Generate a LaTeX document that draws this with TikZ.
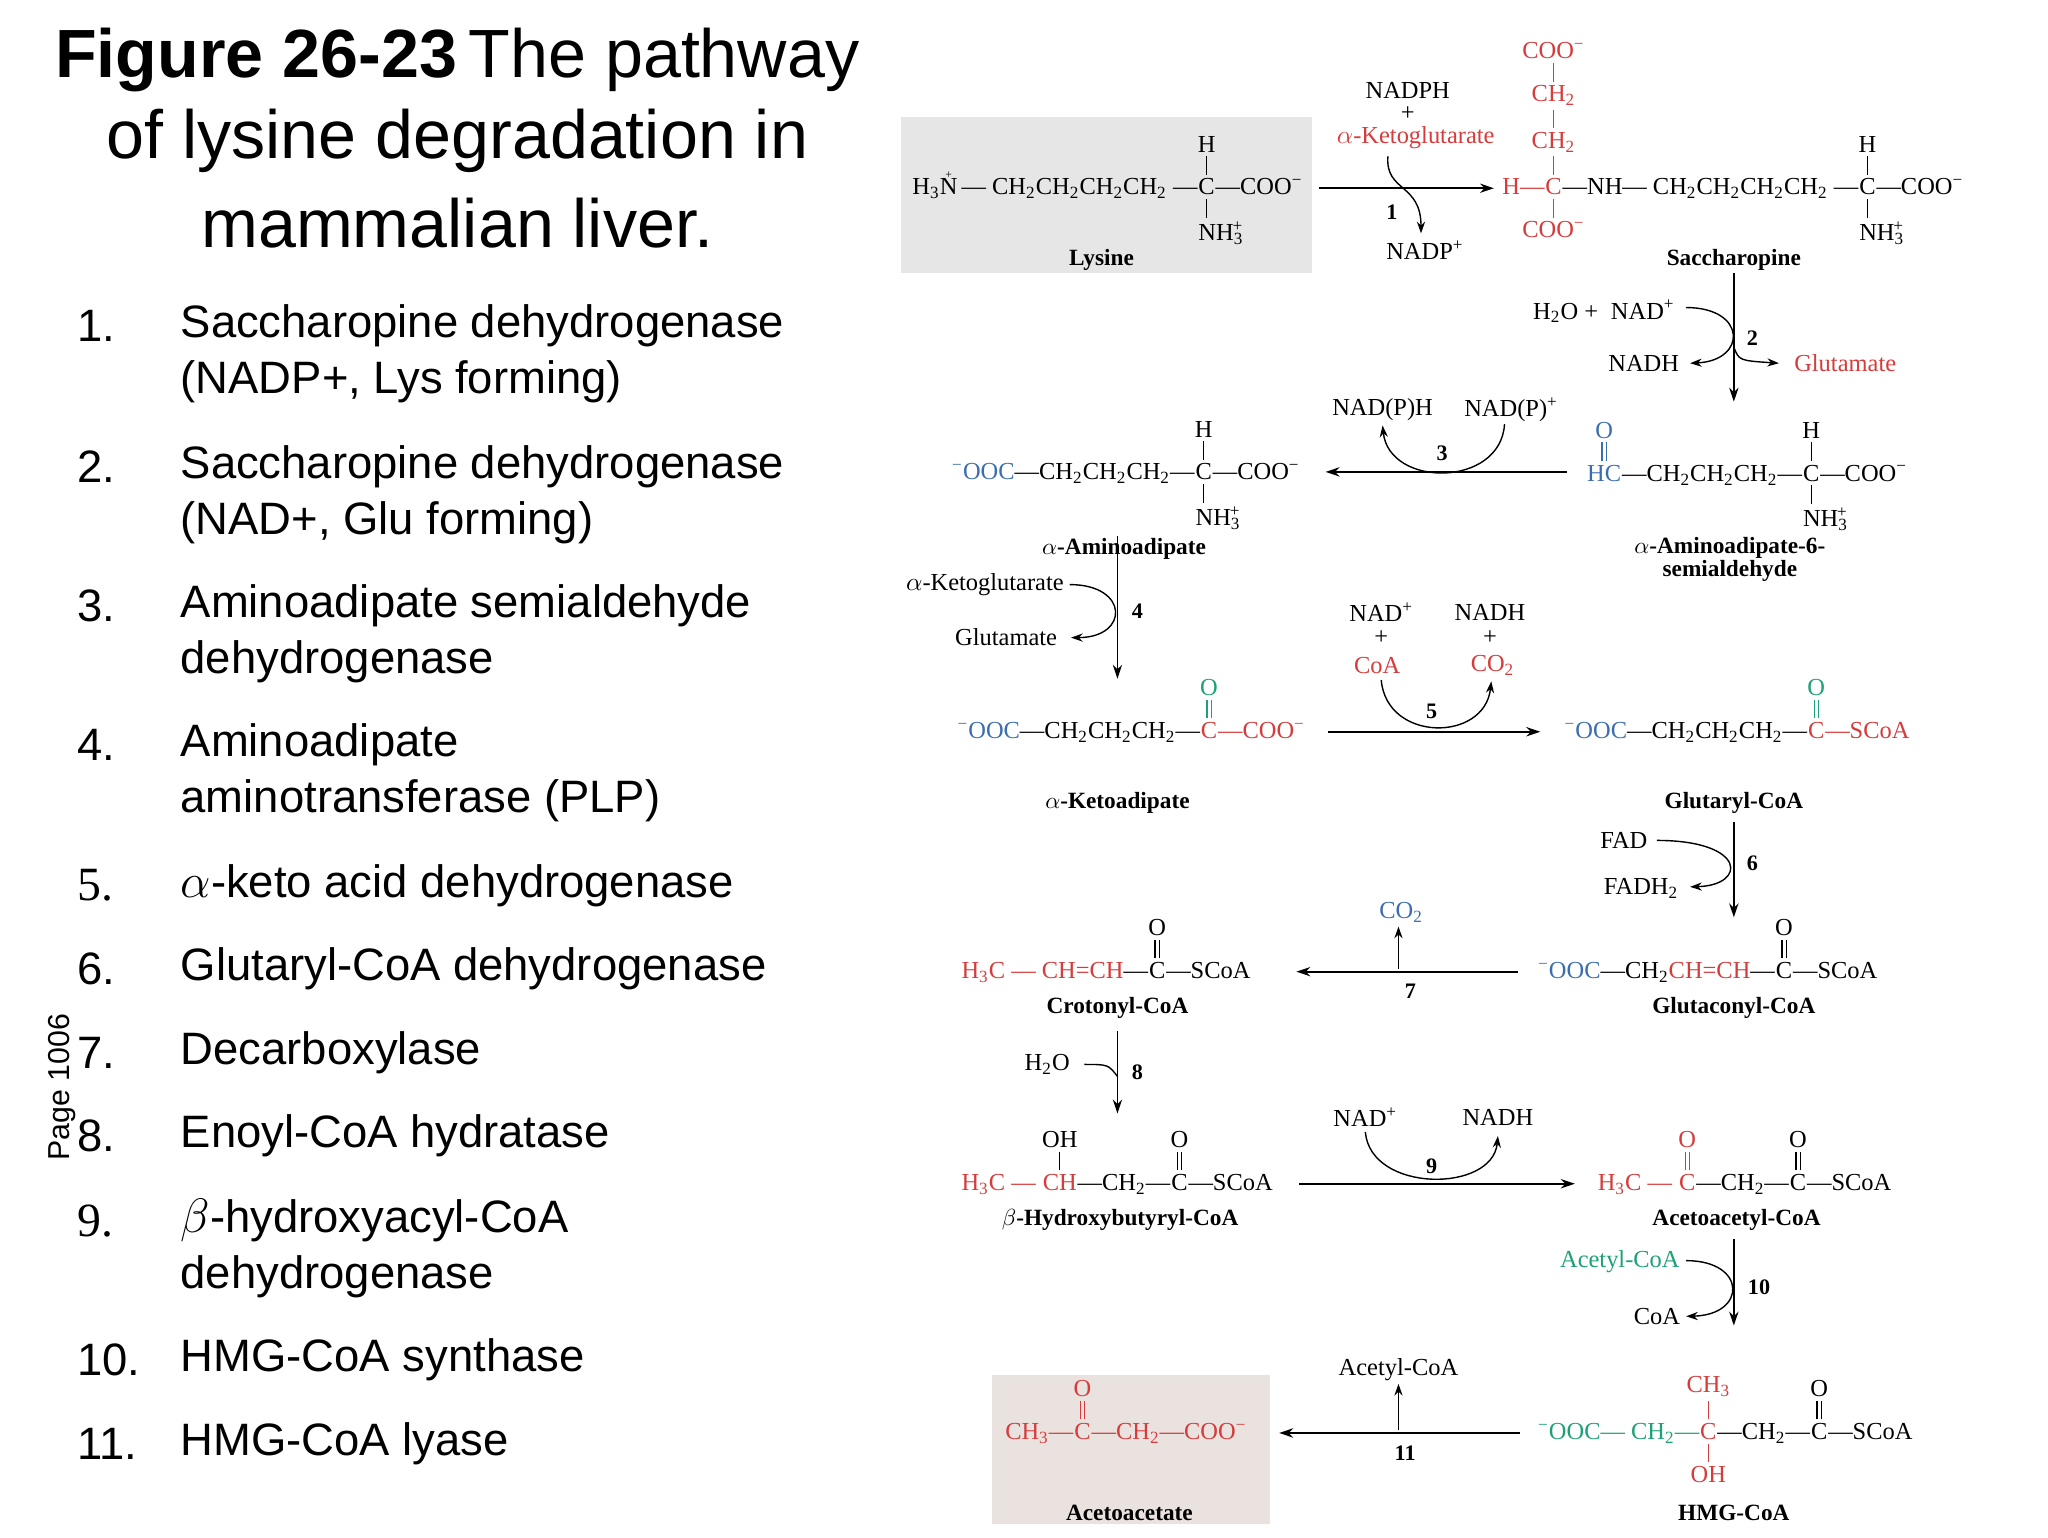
\documentclass[tikz,border=0pt]{standalone}
\usepackage{fontspec}
\setmainfont{Liberation Serif}
\newfontfamily\sans{Liberation Sans}
\usetikzlibrary{arrows.meta,positioning}
\definecolor{cred}{RGB}{214,60,60}
\definecolor{cblue}{RGB}{60,110,175}
\definecolor{cgreen}{RGB}{30,160,120}
\definecolor{boxgray}{RGB}{230,230,230}
\definecolor{boxpink}{RGB}{234,226,222}
\newcommand{\sbs}[1]{\textsubscript{#1}}
\newcommand{\sps}[1]{\textsuperscript{#1}}
\newcommand{\R}[1]{\textcolor{cred}{#1}}
\newcommand{\B}[1]{\textcolor{cblue}{#1}}
\newcommand{\G}[1]{\textcolor{cgreen}{#1}}
\newcommand{\NHt}{NH\sbs{3}\llap{\sps{+}}}
\newcommand{\Nplus}{{\ooalign{N\cr\hidewidth\raisebox{1.5ex}{\tiny+}\hidewidth}}}
\newcommand{\upS}[4][black]{\node[chem, above=11pt of #2] (#3) {#4}; \draw[bond,#1] ([yshift=1.5pt]#2.north) -- ([yshift=-1.5pt]#3.south);}
\newcommand{\upD}[4][black]{\node[chem, above=11pt of #2] (#3) {#4}; \draw[bond,#1] ([xshift=-0.9pt,yshift=1.5pt]#2.north) -- ([xshift=-0.9pt,yshift=-1.5pt]#3.south) ([xshift=0.9pt,yshift=1.5pt]#2.north) -- ([xshift=0.9pt,yshift=-1.5pt]#3.south);}
\newcommand{\dnS}[4][black]{\node[chem, below=11pt of #2] (#3) {#4}; \draw[bond,#1] ([yshift=-1.5pt]#2.south) -- ([yshift=1.5pt]#3.north);}
\newcommand{\dnN}[2]{\node[chem, anchor=north west] (#2) at ([yshift=-11pt]#1.south west) {\NHt}; \draw[bond] ([yshift=-1.5pt]#1.south) -- ([yshift=1.5pt]#1.south |- #2.north);}
\begin{document}
\begin{tikzpicture}[x=0.02cm,y=-0.02cm,
  chem/.style={font=\fontsize{10.5}{11}\selectfont, inner sep=0pt},
  seg/.style={chem, anchor=base west},
  lab/.style={font=\fontsize{10}{10.5}\selectfont\bfseries, inner sep=0pt},
  num/.style={font=\fontsize{9.5}{10}\selectfont\bfseries, inner sep=0pt},
  list/.style={font=\sans\fontsize{19.5}{22}\selectfont, inner sep=0pt, anchor=west},
  serlist/.style={font=\fontsize{20.5}{22}\selectfont, inner sep=0pt, anchor=west},
  title/.style={font=\sans\fontsize{29.3}{33}\selectfont, inner sep=0pt},
  arr/.style={-{Stealth[length=6pt,width=4pt]}, line width=0.8pt},
  bond/.style={line width=0.5pt},
  rx/.style={-{Stealth[length=5pt,width=3.5pt]}, line width=0.6pt}]
\useasboundingbox (0,0) rectangle (1545,1160);
% ---------- left text ----------
\node[title] (t1) at (345,45) {\textbf{Figure 26-23}\,The pathway};
\node[title] (t2) at (345,106) {of lysine degradation in};
\node[title] (t3) at (345,168) {mammalian liver.};
\foreach \n/\y/\a/\b in {1./246/Saccharopine dehydrogenase/(NADP+{,} Lys forming),
                         2./352/Saccharopine dehydrogenase/(NAD+{,} Glu forming),
                         3./457/Aminoadipate semialdehyde/dehydrogenase,
                         4./562/Aminoadipate/aminotransferase (PLP)}{
  \node[list] at (58,\y) {\n};
  \node[list] at (136,\y) {\a};
  \node[list] at (136,\y+42) {\b};
}
\node[serlist] (n5) at (58,668) {5.};
\node[list] (l5) at (136,668) {{\rmfamily$\alpha$}-keto acid dehydrogenase};
\node[list] (n6) at (58,731) {6.};
\node[list] (l6) at (136,731) {Glutaryl-CoA dehydrogenase};
\node[list] (n7) at (58,794) {7.};
\node[list] (l7) at (136,794) {Decarboxylase};
\node[list] (n8) at (58,857) {8.};
\node[list] (l8) at (136,857) {Enoyl-CoA hydratase};
\node[serlist] (n9) at (58,921) {9.};
\node[list] (l9) at (136,921) {{\rmfamily$\beta$}-hydroxyacyl-CoA};
\node[list] (l9b) at (136,963) {dehydrogenase};
\node[list] (n10) at (58,1026) {10.};
\node[list] (l10) at (136,1026) {HMG-CoA synthase};
\node[list] (n11) at (58,1089) {11.};
\node[list] (l11) at (136,1089) {HMG-CoA lyase};
\node[font=\sans\fontsize{13}{14}\selectfont, rotate=90, inner sep=0pt] (pg) at (47,820) {Page 1006};
% ---------- boxes ----------
\fill[boxgray] (680,88) rectangle (990,206);
\fill[boxpink] (748,1037) rectangle (958,1150);
% ---------- Lysine ----------
\node[seg] (lys1) at (688,147) {H\sbs{3}\Nplus\,— CH\sbs{2}CH\sbs{2}CH\sbs{2}CH\sbs{2} —};
\node[seg] (lysC) at (lys1.base east) {C};
\node[seg] (lys2) at (lysC.base east) {—COO\sps{−}};
\upS{lysC}{lysH}{H}
\dnN{lysC}{lysN}
\node[lab] (lysL) at (831,196) {Lysine};
% step 1
\coordinate (a1s) at (995,142); \coordinate (a1e) at (1127,142);
\draw[arr] (a1s)--(a1e);
\node[chem] (c1a) at (1062,68) {NADPH};
\node[chem] at (1062,86) {+};
\node[chem] (c1b) at (1068,104) {\R{$\alpha$-Ketoglutarate}};
\node[chem] (c1c) at (1075,189) {NADP\sps{+}};
\node[num] at (1050,160) {1};
\draw[rx] (1047,118) .. controls (1045,145) and (1072,138) .. (1072,176);
% ---------- Saccharopine ----------
\node[seg] (sac1) at (1133,147) {\R{H—}};
\node[seg] (sacC) at (sac1.base east) {\R{C}};
\node[seg] (sac2) at (sacC.base east) {—NH— CH\sbs{2}CH\sbs{2}CH\sbs{2}CH\sbs{2} —};
\node[seg] (sacD) at (sac2.base east) {C};
\node[seg] (sac3) at (sacD.base east) {—COO\sps{−}};
\upS[cred]{sacC}{s3}{\R{CH\sbs{2}}}
\upS[cred]{s3}{s2}{\R{CH\sbs{2}}}
\upS[cred]{s2}{s1}{\R{COO\sps{−}}}
\dnS[cred]{sacC}{s4}{\R{COO\sps{−}}}
\upS{sacD}{sacH}{H}
\dnN{sacD}{sacN}
\node[lab] (sacL) at (1308,196) {Saccharopine};
% step 2
\coordinate (a2s) at (1308,206); \coordinate (a2e) at (1308,303);
\draw[arr] (a2s)--(a2e);
\node[chem] (c2a) at (1210,235) {H\sbs{2}O +\; NAD\sps{+}};
\node[chem] (c2b) at (1240,274) {NADH};
\node[chem] (c2c) at (1392,274) {\R{Glutamate}};
\node[num] at (1322,255) {2};
\draw[rx] (1272,232) .. controls (1318,232) and (1318,272) .. (1275,274);
\draw[rx] (1308,262) .. controls (1312,272) .. (1342,274);
% ---------- semialdehyde ----------
\node[seg] (semiC) at (1197,363) {\B{HC}};
\node[seg] (semi2) at (semiC.base east) {—CH\sbs{2}CH\sbs{2}CH\sbs{2}—};
\node[seg] (semiD) at (semi2.base east) {C};
\node[seg] (semi3) at (semiD.base east) {—COO\sps{−}};
\upD[cblue]{semiC}{semiO}{\B{O}}
\upS{semiD}{semiH}{H}
\dnN{semiD}{semiN}
\node[lab, align=center] (semiL) at (1305,422) {$\alpha$-Aminoadipate-6-\\[-1pt]semialdehyde};
% step 3
\coordinate (a3s) at (1182,356); \coordinate (a3e) at (1000,356);
\draw[arr] (a3s)--(a3e);
\node[chem] (c3a) at (1043,309) {NAD(P)H};
\node[chem] (c3b) at (1140,309) {NAD(P)\sps{+}};
\node[num] at (1088,342) {3};
\draw[rx] (1135,320) .. controls (1132,368) and (1048,368) .. (1043,321);
% ---------- aminoadipate ----------
\node[seg] (aad1) at (718,362) {\B{\sps{−}OOC}—CH\sbs{2}CH\sbs{2}CH\sbs{2}—};
\node[seg] (aadC) at (aad1.base east) {C};
\node[seg] (aad2) at (aadC.base east) {—COO\sps{−}};
\upS{aadC}{aadH}{H}
\dnN{aadC}{aadN}
\node[lab] (aadL) at (848,414) {$\alpha$-Aminoadipate};
% step 4
\coordinate (a4s) at (843,404); \coordinate (a4e) at (843,512);
\draw[arr] (a4s)--(a4e);
\node[chem] (c4a) at (743,441) {$\alpha$-Ketoglutarate};
\node[chem] (c4b) at (759,481) {Glutamate};
\node[num] at (858,461) {4};
\draw[rx] (807,441) .. controls (852,441) and (852,481) .. (808,481);
% ---------- ketoadipate ----------
\node[seg] (kad1) at (722,557) {\B{\sps{−}OOC}—CH\sbs{2}CH\sbs{2}CH\sbs{2}—};
\node[seg] (kadC) at (kad1.base east) {\R{C}};
\node[seg] (kad2) at (kadC.base east) {\R{—COO\sps{−}}};
\upD[cgreen]{kadC}{kadO}{\G{O}}
\node[lab] (kadL) at (843,606) {$\alpha$-Ketoadipate};
% step 5
\coordinate (a5s) at (1002,552); \coordinate (a5e) at (1162,552);
\draw[arr] (a5s)--(a5e);
\node[chem] at (1042,462) {NAD\sps{+}};
\node[chem] at (1042,481) {+};
\node[chem] at (1039,502) {\R{CoA}};
\node[chem] at (1124,462) {NADH};
\node[chem] at (1124,481) {+};
\node[chem] at (1126,502) {\R{CO\sbs{2}}};
\node[num] at (1080,537) {5};
\draw[rx] (1042,513) .. controls (1046,560) and (1120,560) .. (1125,514);
% ---------- glutaryl ----------
\node[seg] (glu1) at (1180,557) {\B{\sps{−}OOC}—CH\sbs{2}CH\sbs{2}CH\sbs{2}—};
\node[seg] (gluC) at (glu1.base east) {\R{C}};
\node[seg] (glu2) at (gluC.base east) {\R{—SCoA}};
\upD[cgreen]{gluC}{gluO}{\G{O}}
\node[lab] (glutL) at (1308,606) {Glutaryl-CoA};
% step 6
\coordinate (a6s) at (1308,620); \coordinate (a6e) at (1308,692);
\draw[arr] (a6s)--(a6e);
\node[chem] at (1225,634) {FAD};
\node[chem] at (1238,670) {FADH\sbs{2}};
\node[num] at (1322,651) {6};
\draw[rx] (1250,634) .. controls (1318,634) and (1318,668) .. (1275,669);
% ---------- glutaconyl ----------
\node[seg] (gc1) at (1160,738) {\B{\sps{−}OOC}—CH\sbs{2}\R{CH=CH}—};
\node[seg] (gcC) at (gc1.base east) {C};
\node[seg] (gc2) at (gcC.base east) {—SCoA};
\upD{gcC}{gcO}{O}
\node[lab] (gconL) at (1308,760) {Glutaconyl-CoA};
% step 7
\coordinate (a7s) at (1145,733); \coordinate (a7e) at (978,733);
\draw[arr] (a7s)--(a7e);
\node[chem] (c7) at (1057,688) {\B{CO\sbs{2}}};
\draw[rx] (1055,731)--(1055,699);
\node[num] at (1064,748) {7};
% ---------- crotonyl ----------
\node[seg] (cr1) at (725,738) {\R{H\sbs{3}C — CH=CH}—};
\node[seg] (crC) at (cr1.base east) {C};
\node[seg] (cr2) at (crC.base east) {—SCoA};
\upD{crC}{crO}{O}
\node[lab] (crotL) at (843,760) {Crotonyl-CoA};
% step 8
\coordinate (a8s) at (843,778); \coordinate (a8e) at (843,840);
\draw[arr] (a8s)--(a8e);
\node[chem] at (790,803) {H\sbs{2}O};
\node[num] at (858,809) {8};
\draw[line width=0.6pt] (818,803) .. controls (836,803) .. (843,812);
% ---------- hydroxybutyryl ----------
\node[seg] (hb1) at (725,898) {\R{H\sbs{3}C — }};
\node[seg] (hbC) at (hb1.base east) {\R{CH}};
\node[seg] (hb2) at (hbC.base east) {—CH\sbs{2}—};
\node[seg] (hbD) at (hb2.base east) {C};
\node[seg] (hb3) at (hbD.base east) {—SCoA};
\upS{hbC}{hbOH}{OH}
\upD{hbD}{hbO}{O}
\node[lab] (hbL) at (845,920) {$\beta$-Hydroxybutyryl-CoA};
% step 9
\coordinate (a9s) at (980,893); \coordinate (a9e) at (1188,893);
\draw[arr] (a9s)--(a9e);
\node[chem] at (1030,843) {NAD\sps{+}};
\node[chem] at (1130,843) {NADH};
\node[num] at (1080,880) {9};
\draw[rx] (1030,854) .. controls (1034,900) and (1126,900) .. (1130,857);
% ---------- acetoacetyl ----------
\node[seg] (ac1) at (1205,898) {\R{H\sbs{3}C — }};
\node[seg] (acC) at (ac1.base east) {\R{C}};
\node[seg] (ac2) at (acC.base east) {—CH\sbs{2}—};
\node[seg] (acD) at (ac2.base east) {C};
\node[seg] (ac3) at (acD.base east) {—SCoA};
\upD[cred]{acC}{acO1}{\R{O}}
\upD{acD}{acO2}{O}
\node[lab] (aaccL) at (1310,920) {Acetoacetyl-CoA};
% step 10
\coordinate (a10s) at (1308,935); \coordinate (a10e) at (1308,1000);
\draw[arr] (a10s)--(a10e);
\node[chem] at (1222,952) {\G{Acetyl-CoA}};
\node[chem] at (1250,993) {CoA};
\node[num] at (1327,971) {10};
\draw[rx] (1272,951) .. controls (1318,951) and (1318,992) .. (1272,993);
% ---------- HMG-CoA ----------
\node[seg] (hm1) at (1160,1086) {\G{\sps{−}OOC— CH\sbs{2}—}};
\node[seg] (hmC) at (hm1.base east) {\R{C}};
\node[seg] (hm2) at (hmC.base east) {—CH\sbs{2}—};
\node[seg] (hmD) at (hm2.base east) {C};
\node[seg] (hm3) at (hmD.base east) {—SCoA};
\upS[cred]{hmC}{hmCH}{\R{CH\sbs{3}}}
\dnS[cred]{hmC}{hmOH}{\R{OH}}
\upD{hmD}{hmO}{O}
\node[lab] (hmgL) at (1308,1141) {HMG-CoA};
% step 11
\coordinate (a11s) at (1147,1081); \coordinate (a11e) at (965,1081);
\draw[arr] (a11s)--(a11e);
\node[chem] (c11) at (1055,1033) {Acetyl-CoA};
\draw[rx] (1055,1079)--(1055,1044);
\node[num] at (1060,1096) {11};
% ---------- acetoacetate ----------
\node[seg] (at1) at (758,1086) {\R{CH\sbs{3}—}};
\node[seg] (atC) at (at1.base east) {\R{C}};
\node[seg] (at2) at (atC.base east) {\R{—CH\sbs{2}—COO\sps{−}}};
\upD[cred]{atC}{atO}{\R{O}}
\node[lab] (aacL) at (852,1141) {Acetoacetate};
\end{tikzpicture}
\end{document}
